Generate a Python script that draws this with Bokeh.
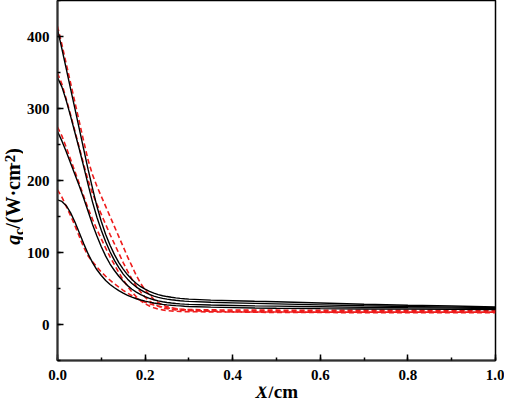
import math
from bokeh.plotting import figure
from bokeh.models import Range1d, SingleIntervalTicker
from bokeh.layouts import column, row
from bokeh.core.properties import value
from bokeh.embed import file_html
from bokeh.resources import INLINE

X = [0.00, 0.01, 0.02, 0.03, 0.04, 0.05, 0.06, 0.07, 0.08, 0.09,
     0.10, 0.11, 0.12, 0.13, 0.14, 0.15, 0.16, 0.17, 0.18, 0.19,
     0.20, 0.21, 0.22, 0.23, 0.24, 0.25, 0.26, 0.27, 0.28, 0.29,
     0.30, 0.35, 0.40, 0.45, 0.50, 0.60, 0.70, 0.80, 0.90, 1.00]

black1 = [410, 383, 355, 327, 299, 271, 243, 215, 189, 164,
          143, 125, 110, 97, 86, 77, 69, 62.5, 57, 52.5,
          49, 46, 43.5, 41.5, 40, 38.8, 37.8, 37, 36.3, 35.7,
          35.2, 33.8, 33, 32.2, 31.5, 29.8, 28.2, 26.8, 25.6, 24.5]
black2 = [343, 330, 311, 289, 266, 243, 219, 194, 170, 149,
          131, 115, 101, 89, 79, 70, 63, 57, 52, 48,
          44.5, 41.7, 39.5, 37.7, 36.3, 35.2, 34.3, 33.6, 33, 32.5,
          32.1, 30.8, 30, 29.3, 28.7, 27.3, 26.1, 25.1, 24.2, 23.4]
black3 = [268, 255, 240, 224, 208, 192, 175, 157, 139, 123,
          108, 95, 84, 75, 67, 60, 54, 49, 45, 41.5,
          38.7, 36.3, 34.4, 32.8, 31.6, 30.6, 29.8, 29.2, 28.7, 28.3,
          28, 27, 26.4, 25.9, 25.5, 24.6, 23.8, 23.2, 22.7, 22.3]
black4 = [173, 171, 165, 155, 142, 127, 112, 98, 86, 76,
          68, 61, 55.5, 51, 47, 43.5, 40.5, 38, 35.8, 34,
          32.4, 31, 29.8, 28.8, 28, 27.3, 26.7, 26.2, 25.8, 25.4,
          25.1, 24.1, 23.5, 23, 22.6, 22, 21.6, 21.3, 21, 20.8]

red1 = [414, 389, 362, 335, 308, 281, 254, 228, 208, 192,
        178, 164, 150, 136, 122, 108, 94, 81, 68, 57,
        48, 41, 35, 30.5, 27, 24.8, 23.3, 22.3, 21.6, 21.1,
        20.8, 20.3, 20.1, 20, 19.9, 19.8, 19.7, 19.7, 19.6, 19.6]
red2 = [349, 334, 313, 291, 268, 245, 222, 200, 182, 167,
        153, 139, 125, 112, 99, 86, 74, 63, 53, 45,
        38, 32.5, 28.5, 25.5, 23.4, 22, 21, 20.3, 19.8, 19.4,
        19.2, 18.8, 18.6, 18.5, 18.4, 18.3, 18.3, 18.2, 18.2, 18.2]
red3 = [274, 262, 246, 229, 212, 195, 178, 161, 146, 132,
        119, 106, 94, 83, 72, 62, 53, 45, 38.5, 33,
        28.8, 25.6, 23.2, 21.5, 20.3, 19.4, 18.8, 18.4, 18.1, 17.9,
        17.8, 17.5, 17.4, 17.3, 17.3, 17.2, 17.2, 17.2, 17.2, 17.2]
red4 = [187, 177, 164, 151, 137, 122, 107, 95, 87, 80,
        73, 67, 61.5, 56.5, 52, 47.5, 43.5, 40, 36.5, 33.5,
        31, 29, 27, 25.5, 24.2, 23.2, 22.3, 21.6, 21, 20.5,
        20, 18.5, 17.5, 17, 16.8, 16.6, 16.5, 16.5, 16.4, 16.4]

black_series = [black1, black2, black3, black4]
red_series = [red1, red2, red3, red4]

x_label_parts = ["X", "/cm"]
y_label_parts = ["q", "c", "/(W·cm", "-2", ")"]

FONT = "Liberation Serif"

YW = 23            # y-label strip width
MW = 504 - YW      # main figure width
MH = 386           # main figure height
XH = 401 - MH      # x-label strip height


def blank(w, h):
    f = figure(width=w, height=h, output_backend="svg", toolbar_location=None,
               x_range=Range1d(0, w), y_range=Range1d(0, h),
               min_border_left=0, min_border_right=0, min_border_top=0,
               min_border_bottom=0)
    f.axis.visible = False
    f.grid.visible = False
    f.outline_line_color = None
    f.background_fill_color = "white"
    f.border_fill_color = "white"
    return f


# ---------------- main plot ----------------
p = figure(width=MW, height=MH, output_backend="svg", toolbar_location=None,
           x_range=Range1d(0, 1), y_range=Range1d(-50, 450),
           min_border_left=32, min_border_right=9, min_border_top=0,
           min_border_bottom=26)
p.grid.visible = False
p.outline_line_color = "black"
p.outline_line_width = 1.5
p.background_fill_color = "white"
p.border_fill_color = "white"

p.xaxis.ticker = SingleIntervalTicker(interval=0.2, num_minor_ticks=2)
p.yaxis.ticker = SingleIntervalTicker(interval=100, num_minor_ticks=2)
p.xaxis.major_label_overrides = {0: "0.0", 1: "1.0"}
for ax in (p.xaxis, p.yaxis):
    ax.axis_line_width = 2
    ax.axis_line_color = "#303030"
    ax.major_tick_in = 6
    ax.major_tick_out = 0
    ax.minor_tick_in = 3
    ax.minor_tick_out = 0
    ax.major_tick_line_width = 1.5
    ax.minor_tick_line_width = 1.5
    ax.major_tick_line_color = "black"
    ax.minor_tick_line_color = "black"
    ax.major_label_text_font = FONT
    ax.major_label_text_font_style = "bold"
    ax.major_label_text_font_size = "15px"
    ax.major_label_text_color = "black"
p.xaxis.major_label_standoff = 9
p.yaxis.major_label_standoff = 8

for s in red_series:
    p.line(X, s, line_color="#ee1c1c", line_width=1.6, line_dash="5 3")
for s in black_series:
    p.line(X, s, line_color="black", line_width=1.4)

# ---------------- y label strip ----------------
yf = blank(YW, MH)


def ytext(txt, ax, ay, size, style):
    yf.text(x=[ax], y=[ay], text=[txt], angle=math.pi / 2,
            text_font=value(FONT), text_font_style=style,
            text_font_size=f"{size}px", text_color="black",
            text_align="left", text_baseline="bottom")


yy = 124
ytext(y_label_parts[0], 23, yy, 20, "bold italic")
yy += 10.5
ytext(y_label_parts[1], 26.5, yy, 14, "bold")
yy += 6.7
ytext(y_label_parts[2], 23, yy, 20, "bold")
yy += 66
ytext(y_label_parts[3], 14.5, yy, 15, "bold")
yy += 13.5
ytext(y_label_parts[4], 23, yy, 20, "bold")

# ---------------- x label strip ----------------
xf = blank(504, XH)


def xtext(txt, ax, size, style):
    xf.text(x=[ax], y=[0], text=[txt], text_font=value(FONT),
            text_font_style=style, text_font_size=f"{size}px",
            text_color="black", text_align="left", text_baseline="bottom")


xtext(x_label_parts[0], 255, 19, "bold italic")
xtext(x_label_parts[1], 268, 19, "bold")

layout = column(row(yf, p), xf)
open("out.html", "w").write(file_html(layout, INLINE))
